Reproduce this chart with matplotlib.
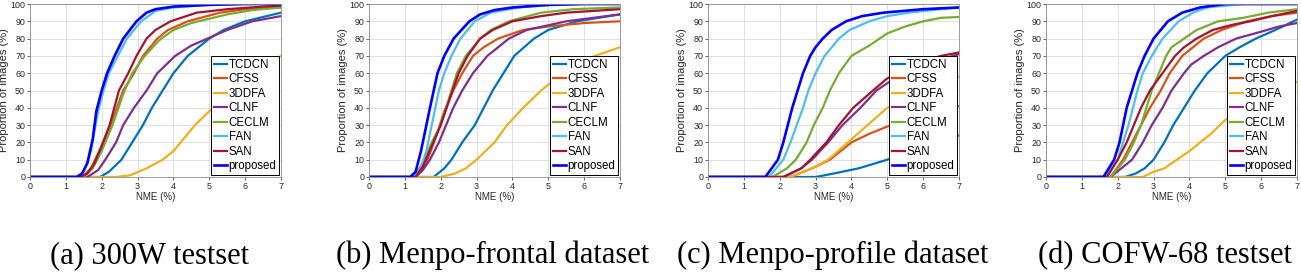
import matplotlib
matplotlib.use("Agg")
import matplotlib.pyplot as plt

methods = ["TCDCN", "CFSS", "3DDFA", "CLNF", "CECLM", "FAN", "SAN", "proposed"]
colors = ["#0072BD", "#D95319", "#EDB120", "#7E2F8E", "#77AC30", "#4DBEEE", "#A2142F", "#0000FF"]
captions = ["(a) 300W testset", "(b) Menpo-frontal dataset",
            "(c) Menpo-profile dataset", "(d) COFW-68 testset"]
caption_x = [150, 493, 833, 1165]

# CED curves, (x, y) knots, one dict per panel
w300 = {
    "TCDCN": ([0, 1.95, 2.2, 2.55, 2.85, 3.15, 3.4, 3.7, 4.0, 4.4, 5.0, 5.4, 6.0, 6.5, 7],
              [0, 0, 3, 10, 20, 30, 40, 50, 60, 70, 80, 85, 90, 92.5, 95]),
    "CFSS": ([0, 1.45, 1.7, 2.0, 2.3, 2.6, 2.9, 3.15, 3.55, 3.85, 4.4, 5.3, 6, 7],
             [0, 0, 5, 18, 33, 50, 60, 70, 80, 85, 90, 95, 97, 98]),
    "3DDFA": ([0, 2.4, 2.8, 3.25, 3.7, 4.0, 4.2, 4.6, 5.1, 5.5, 6.1, 6.5, 7],
              [0, 0, 1, 5, 10, 15, 20, 30, 40, 50, 60, 65, 70]),
    "CLNF": ([0, 1.6, 1.9, 2.1, 2.4, 2.6, 2.9, 3.25, 3.55, 4.05, 4.5, 4.95, 5.5, 6.2, 7],
             [0, 0, 4, 10, 20, 30, 40, 50, 60, 70, 76, 80, 85, 90, 93]),
    "CECLM": ([0, 1.5, 1.75, 2.0, 2.3, 2.6, 2.85, 3.2, 3.6, 4.0, 4.5, 5.5, 6.2, 7],
              [0, 0, 5, 15, 30, 48, 60, 70, 79, 85, 89, 94, 96.5, 98]),
    "FAN": ([0, 1.35, 1.5, 1.7, 1.9, 2.05, 2.2, 2.45, 2.7, 3.1, 3.5, 4.0, 5.0, 6, 7],
            [0, 0, 3, 15, 38, 50, 60, 70, 80, 90, 96, 98, 99.5, 100, 100]),
    "SAN": ([0, 1.4, 1.6, 1.8, 2.0, 2.22, 2.48, 2.74, 2.97, 3.25, 3.5, 3.92, 4.65, 5.5, 6.5, 7],
            [0, 0, 2, 8, 18, 30, 50, 60, 70, 80, 85, 90, 95, 97, 98.5, 99]),
    "proposed": ([0, 1.3, 1.45, 1.6, 1.75, 1.85, 2.0, 2.15, 2.36, 2.6, 2.97, 3.25, 3.5, 4.0, 5.0, 6, 7],
                 [0, 0, 2, 8, 22, 38, 50, 60, 70, 80, 90, 95, 97, 98.5, 99.5, 100, 100]),
}

menpo_frontal = {
    "TCDCN": ([0, 1.8, 2.1, 2.3, 2.6, 2.95, 3.2, 3.45, 3.75, 4.05, 4.6, 5.0, 5.8, 7],
              [0, 0, 5, 10, 20, 30, 40, 50, 60, 70, 80, 85, 90, 94]),
    "CFSS": ([0, 1.3, 1.6, 1.9, 2.1, 2.35, 2.6, 2.9, 3.2, 3.6, 4.3, 5.0, 6.0, 7],
             [0, 0, 8, 25, 38, 50, 60, 70, 75, 80, 85, 87, 89, 90]),
    "3DDFA": ([0, 2.0, 2.4, 2.7, 3.0, 3.5, 3.85, 4.3, 4.8, 5.4, 5.8, 6.3, 7],
              [0, 0, 2, 5, 10, 20, 30, 40, 50, 60, 65, 70, 75]),
    "CLNF": ([0, 1.3, 1.5, 1.7, 1.95, 2.15, 2.35, 2.6, 2.9, 3.3, 3.9, 4.4, 5.5, 7],
             [0, 0, 4, 10, 20, 30, 40, 50, 60, 70, 80, 85, 90, 94]),
    "CECLM": ([0, 1.25, 1.5, 1.75, 2.0, 2.3, 2.45, 2.7, 3.1, 3.4, 3.9, 4.8, 5.7, 7],
              [0, 0, 8, 20, 30, 50, 60, 70, 80, 85, 90, 95, 97, 98]),
    "FAN": ([0, 1.2, 1.4, 1.6, 1.75, 1.95, 2.1, 2.3, 2.55, 2.95, 3.4, 4.2, 5, 6, 7],
            [0, 0, 3, 15, 30, 50, 60, 70, 80, 90, 95, 98, 99.3, 100, 100]),
    "SAN": ([0, 1.3, 1.5, 1.75, 2.0, 2.33, 2.5, 2.75, 3.1, 3.45, 4.0, 4.8, 5.5, 7],
            [0, 0, 6, 18, 30, 50, 60, 70, 80, 85, 90, 93, 95, 97]),
    "proposed": ([0, 1.15, 1.3, 1.45, 1.6, 1.7, 1.91, 2.1, 2.36, 2.8, 3.1, 3.5, 4.0, 5.0, 6.0, 7],
                 [0, 0, 3, 15, 30, 40, 60, 70, 80, 90, 94, 96.5, 98, 99.5, 100, 100]),
}

menpo_profile = {
    "TCDCN": ([0, 3.0, 3.5, 4.2, 5.0, 5.6, 6.2, 7],
              [0, 0, 2, 5, 10, 15, 20, 24]),
    "CFSS": ([0, 2.3, 2.9, 3.4, 4.0, 4.5, 5.1, 5.7, 6.2, 7],
             [0, 0, 5, 10, 20, 25, 30, 35, 38, 41]),
    "3DDFA": ([0, 2.3, 2.9, 3.35, 3.9, 4.45, 5.0, 5.5, 6.0, 6.5, 7],
              [0, 0, 5, 10, 20, 30, 40, 45, 50, 55, 58]),
    "CLNF": ([0, 2.1, 2.6, 2.9, 3.35, 3.75, 4.25, 4.7, 5.2, 6.0, 7],
             [0, 0, 5, 10, 20, 30, 40, 50, 57, 65, 71]),
    "CECLM": ([0, 1.8, 2.2, 2.45, 2.75, 2.95, 3.2, 3.4, 3.65, 4.0, 4.5, 5.0, 5.5, 6.0, 6.5, 7],
              [0, 0, 5, 10, 20, 30, 40, 50, 60, 70, 76, 83, 87, 90, 92, 92.5]),
    "FAN": ([0, 1.7, 2.1, 2.3, 2.65, 2.8, 3.0, 3.25, 3.65, 3.95, 4.5, 5.0, 5.6, 6.5, 7],
            [0, 0, 10, 20, 40, 50, 60, 70, 80, 85, 90, 93, 95, 97, 98]),
    "SAN": ([0, 2.1, 2.6, 2.85, 3.3, 3.65, 4.05, 4.6, 5.0, 5.5, 6.0, 6.5, 7],
            [0, 0, 5, 10, 20, 30, 40, 50, 57, 62, 67, 70, 72]),
    "proposed": ([0, 1.6, 1.95, 2.1, 2.35, 2.5, 2.65, 2.85, 3.0, 3.2, 3.45, 3.85, 4.3, 4.9, 6, 7],
                 [0, 0, 10, 20, 40, 50, 60, 70, 75, 80, 85, 90, 93, 95, 97, 98]),
}

cofw68 = {
    "TCDCN": ([0, 2.2, 2.5, 2.75, 3.0, 3.3, 3.55, 3.85, 4.15, 4.5, 5.0, 5.4, 5.85, 6.4, 7],
              [0, 0, 2, 5, 10, 20, 30, 40, 50, 60, 70, 75, 80, 85, 91]),
    "CFSS": ([0, 1.8, 2.15, 2.4, 2.65, 2.9, 3.2, 3.45, 3.8, 4.4, 4.9, 5.6, 6.3, 7],
             [0, 0, 10, 20, 30, 40, 50, 60, 70, 80, 85, 90, 93, 95]),
    "3DDFA": ([0, 2.7, 3.0, 3.3, 3.65, 4.0, 4.3, 4.6, 5.0, 5.5, 5.9, 6.3, 7],
              [0, 0, 3, 5, 10, 15, 20, 25, 33, 40, 45, 50, 55]),
    "CLNF": ([0, 1.8, 2.4, 2.7, 2.95, 3.25, 3.5, 3.85, 4.05, 4.4, 4.8, 5.3, 6.0, 6.5, 7],
             [0, 0, 10, 20, 30, 40, 50, 60, 65, 70, 75, 80, 84, 87, 89]),
    "CECLM": ([0, 1.8, 2.2, 2.45, 2.65, 2.8, 2.95, 3.15, 3.35, 3.5, 3.85, 4.2, 4.8, 5.5, 6.2, 7],
              [0, 0, 10, 20, 30, 40, 50, 60, 70, 75, 80, 85, 90, 92, 95, 97]),
    "FAN": ([0, 1.65, 2.0, 2.3, 2.55, 2.7, 2.95, 3.25, 3.7, 4.1, 4.5, 5.5, 7],
            [0, 0, 10, 30, 50, 60, 70, 80, 90, 95, 98, 100, 100]),
    "SAN": ([0, 1.7, 2.0, 2.25, 2.45, 2.65, 2.9, 3.25, 3.6, 3.85, 4.2, 4.65, 5.2, 5.7, 6.3, 7],
            [0, 0, 10, 20, 30, 40, 50, 60, 70, 75, 80, 85, 88, 90, 93, 96]),
    "proposed": ([0, 1.6, 1.9, 2.05, 2.25, 2.4, 2.55, 2.75, 3.0, 3.4, 3.8, 4.3, 5.0, 7],
                 [0, 0, 10, 20, 40, 50, 60, 70, 80, 90, 95, 98, 100, 100]),
}

panels = [w300, menpo_frontal, menpo_profile, cofw68]

plt.rcParams["font.family"] = ["Liberation Sans", "DejaVu Sans"]

W, H = 1301, 275
fig = plt.figure(figsize=(W / 100, H / 100), dpi=100)
lefts = [30, 369, 708, 1046]
axis_gray = "#262626"

for i, data in enumerate(panels):
    ax = fig.add_axes([lefts[i] / W, 1 - 177 / H, 251 / W, 173 / H])
    for m, c in zip(methods, colors):
        xs, ys = data[m]
        ax.plot(xs, ys, color=c, lw=1.6 if m != "proposed" else 1.9, label=m)
    ax.set_xlim(0, 7)
    ax.set_ylim(0, 100)
    ax.set_xticks(range(0, 8))
    ax.set_yticks(range(0, 101, 10))
    ax.grid(True, color="#dcdcdc", lw=0.6)
    ax.set_axisbelow(True)
    ax.tick_params(labelsize=6.4, colors=axis_gray, length=2, width=0.5, pad=1.5)
    for s in ax.spines.values():
        s.set_color("#8c8c8c")
        s.set_linewidth(0.6)
    ax.set_xlabel("NME (%)", fontsize=7, color=axis_gray, labelpad=1)
    ax.set_ylabel("Proportion of images (%)", fontsize=8, color=axis_gray, labelpad=0.5)
    leg = ax.legend(loc="lower right", fontsize=8.3, handlelength=1.15, handletextpad=0.1,
                    labelspacing=0.22, borderpad=0.25, borderaxespad=0.15,
                    fancybox=False, framealpha=1)
    leg.get_frame().set_edgecolor("black")
    leg.get_frame().set_linewidth(0.7)
    fig.text(caption_x[i] / W, 1 - 263 / H, captions[i], ha="center", va="baseline",
             fontsize=22, family="Liberation Serif")

fig.savefig("out.png", dpi=100)
